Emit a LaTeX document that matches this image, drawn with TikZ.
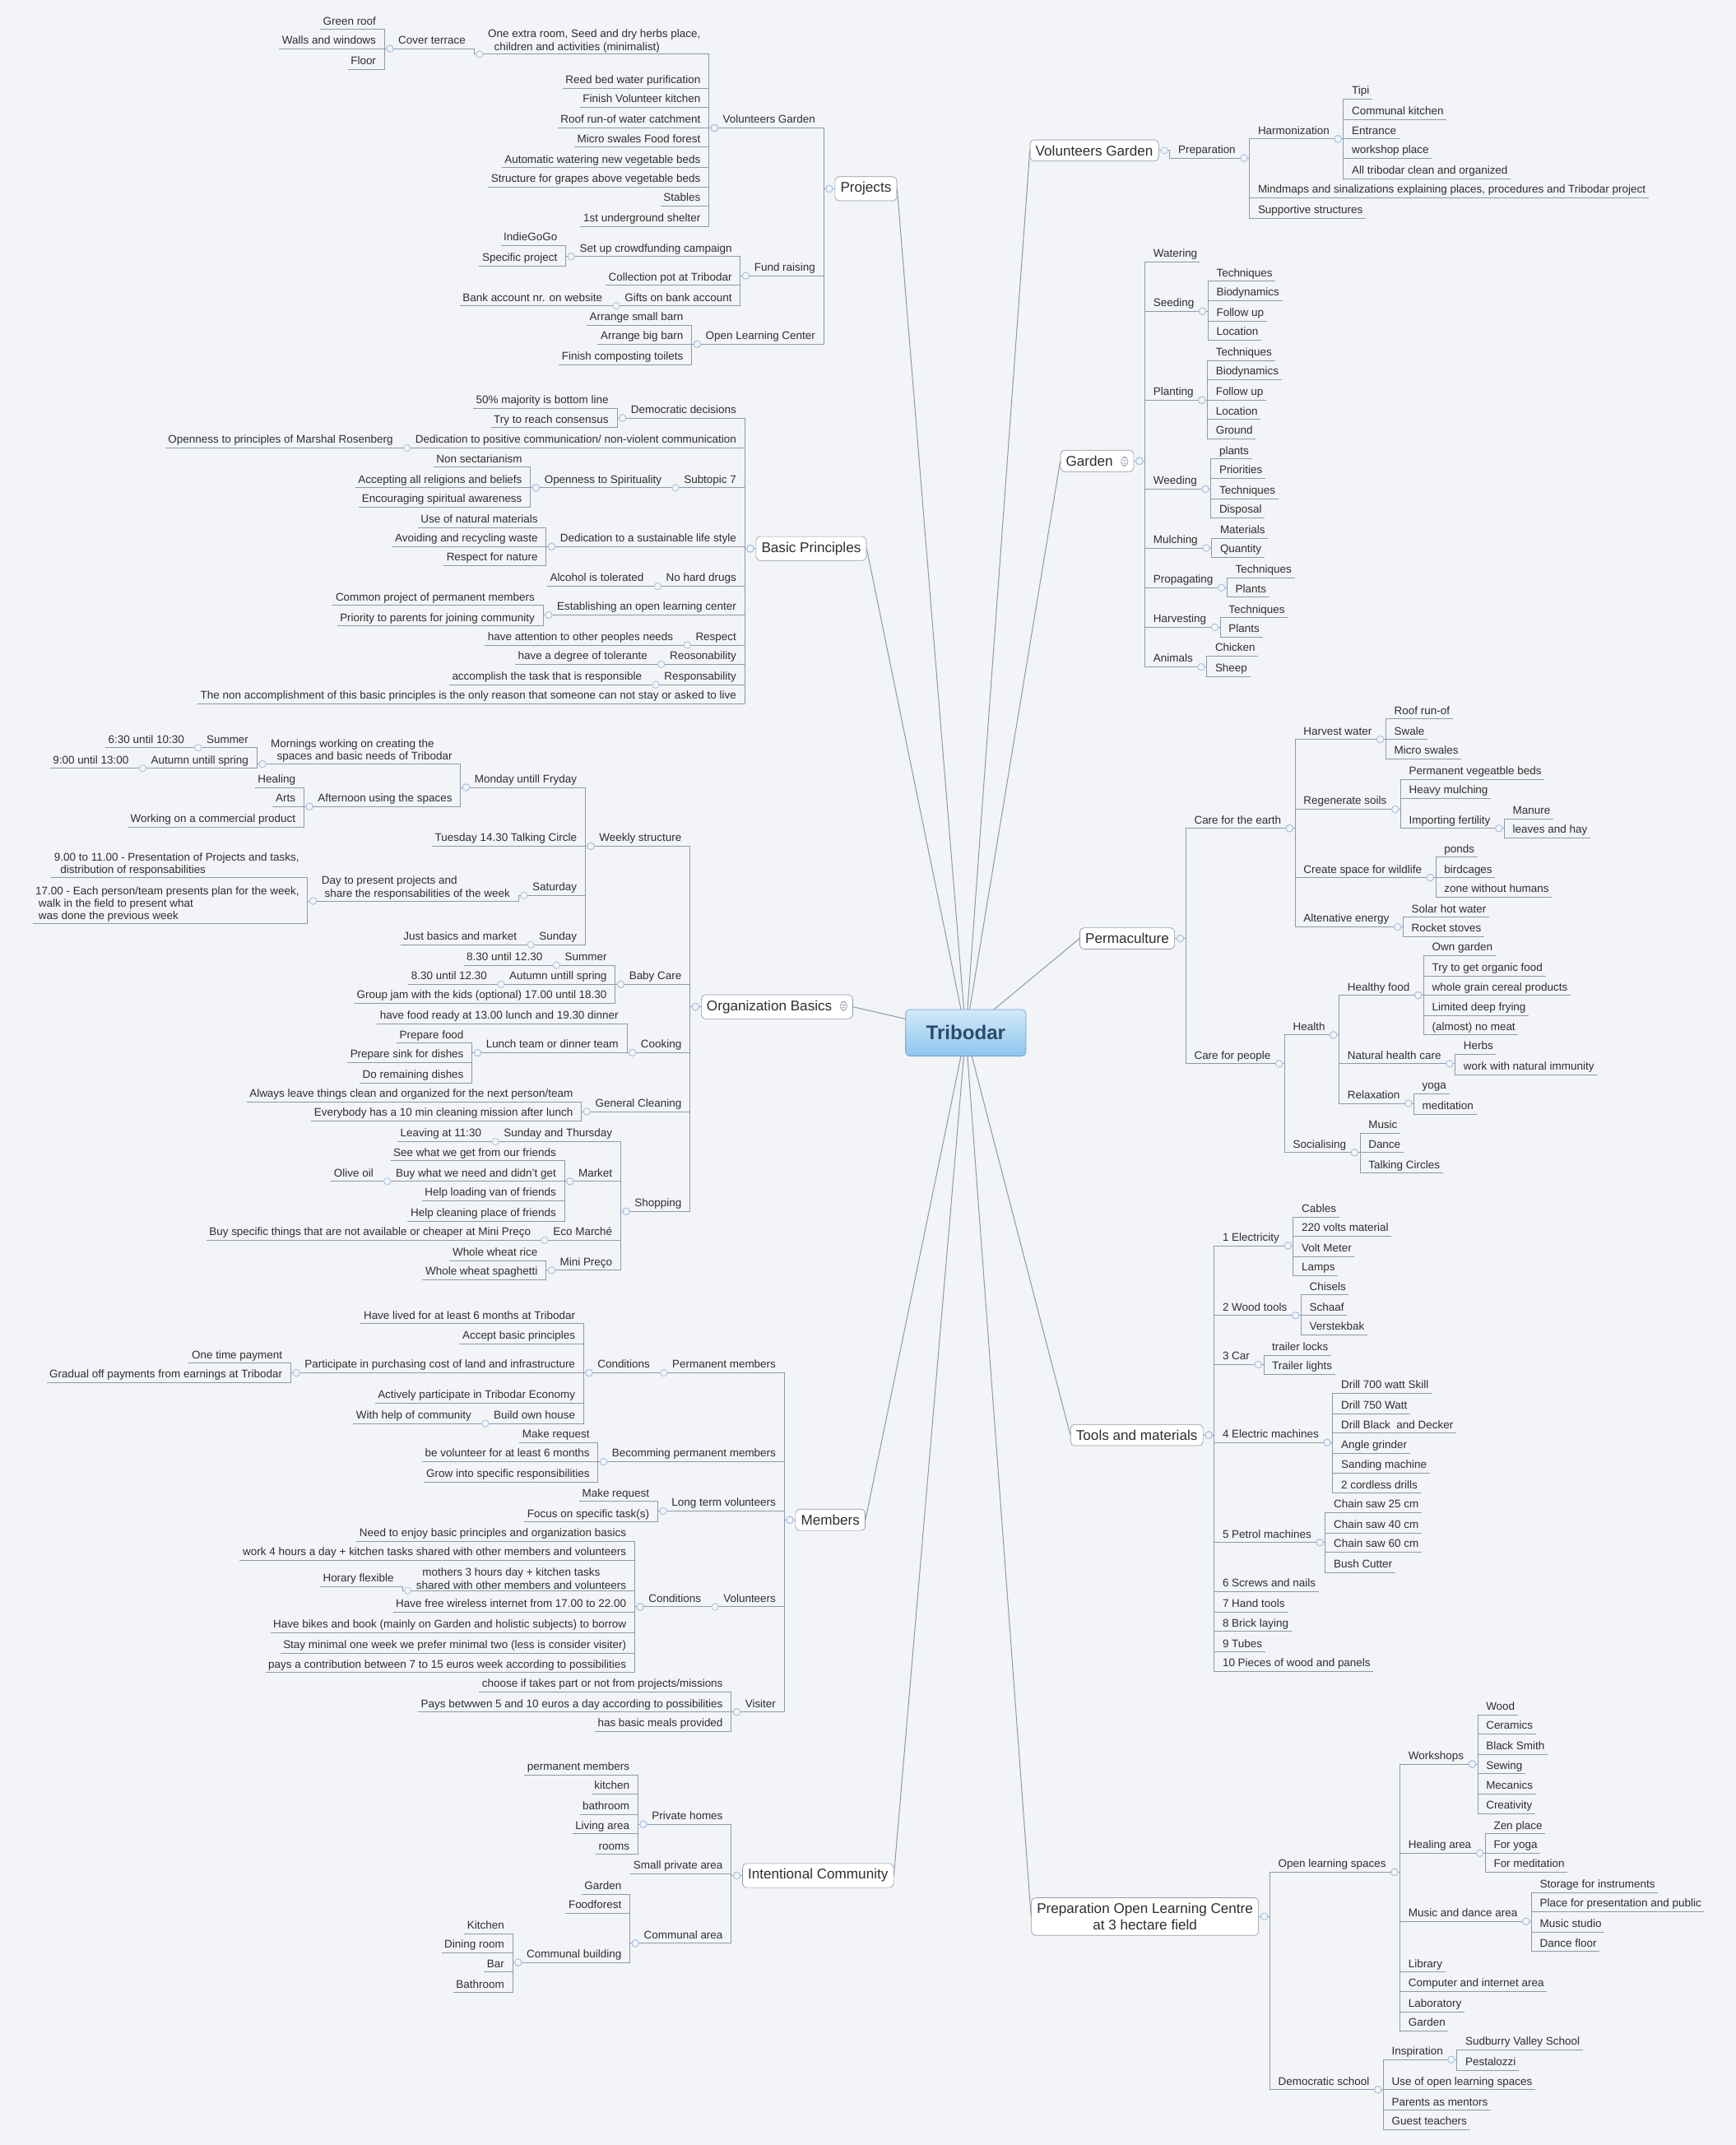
\documentclass[tikz,border=0pt]{standalone}
\usepackage{fontspec}
\setmainfont{Liberation Sans}
\usetikzlibrary{calc}
\definecolor{bg}{HTML}{F2F4F8}
\definecolor{ln}{HTML}{8E99A6}
\definecolor{tx}{HTML}{2E2E2E}
\definecolor{mkc}{HTML}{A9C4E0}
\definecolor{tb}{HTML}{6A9FCC}
\definecolor{tt}{HTML}{2D4A6B}
\definecolor{tup}{HTML}{D2E9FA}
\definecolor{tdn}{HTML}{8EC5EE}
\newcommand\noteicon{\tikz[baseline=0pt]\draw[ln,line width=0.4pt] (0,0) rectangle (5pt,6.5pt) (1pt,2pt)--(4pt,2pt) (1pt,4pt)--(4pt,4pt);}
\tikzset{
 con/.style={draw=ln,line width=0.5pt},
 leaf/.style={font=\fontsize{8.1}{9.2}\selectfont,text=tx,inner xsep=2pt,inner ysep=1pt,text height=6.5pt,text depth=2.2pt,
   append after command={(\tikzlastnode.south west) edge[con] (\tikzlastnode.south east)}},
 leafm/.style={font=\fontsize{8.1}{9.2}\selectfont,text=tx,inner xsep=2pt,inner ysep=1pt,align=left,
   append after command={(\tikzlastnode.south west) edge[con] (\tikzlastnode.south east)}},
 box/.style={draw=ln,fill=white,rounded corners=3pt,font=\fontsize{10.3}{12}\selectfont,text=tx,inner xsep=4pt,inner ysep=4pt,align=center},
 mk/.style={circle,draw=mkc,fill=bg,inner sep=0pt,minimum size=5pt,line width=0.5pt},
 trunk/.style={draw=ln,line width=0.6pt},
}
\gdef\mklist{mk0}
\newcommand\R[5][leaf]{%
 \path (#2) ++(12,0) coordinate (tmp);
 \coordinate (ty) at (0,#4);
 \node[#1,anchor=west] (#3) at (tmp |- ty) {#5};
 \draw[con] (#2) -- ++(8,0) |- (#3.south west);
 \coordinate (mk-#3) at ($(#2)+(4,0)$);
 \xdef\mklist{\mklist,mk-#3}}
\newcommand\Lf[5][leaf]{%
 \path (#2) ++(-12,0) coordinate (tmp);
 \coordinate (ty) at (0,#4);
 \node[#1,anchor=east] (#3) at (tmp |- ty) {#5};
 \draw[con] (#2) -- ++(-8,0) |- (#3.south east);
 \coordinate (mk-#3) at ($(#2)+(-4,0)$);
 \xdef\mklist{\mklist,mk-#3}}
\begin{document}
\begin{tikzpicture}[x=1pt,y=-1pt]
\fill[bg] (0,0) rectangle (1269,1568);
\useasboundingbox (0,0) rectangle (1269,1568);
\coordinate (mk0) at (-60,-60);
% branch boxes
\node[box] (pj) at (633,138) {Projects};
\node[box] (bp) at (593,401) {Basic Principles};
\node[box] (ob) at (568,736) {Organization Basics\ \ \noteicon};
\node[box] (mb) at (607,1111) {Members};
\node[box] (ic) at (598,1371) {Intentional Community};
\node[box] (vg) at (800,110) {Volunteers Garden};
\node[box] (gd) at (802,337) {Garden\ \ \noteicon};
\node[box] (pc) at (824,686) {Permaculture};
\node[box] (tm) at (831,1049) {Tools and materials};
\node[box] (ol) at (837,1401) {Preparation Open Learning Centre\\at 3 hectare field};
\coordinate (Tc) at (706,755);
\foreach \b in {pj,bp,ob,mb,ic}{\draw[trunk] (Tc) -- (\b.east);}
\foreach \b in {vg,gd,pc,tm,ol}{\draw[trunk] (Tc) -- (\b.west);}
\node[draw=tb,rounded corners=3pt,top color=tup,bottom color=tdn,
  minimum width=88pt,minimum height=34pt,font=\bfseries\fontsize{14.5}{16}\selectfont,text=tt] (T) at (Tc) {Tribodar};
% Projects
\Lf{pj.west}{p1}{88}{Volunteers Garden}
\Lf[leafm]{p1.south west}{p11}{30}{One extra room, Seed and dry herbs place,\\\ \ children and activities (minimalist)}
\Lf{p11.south west}{p111}{30}{Cover terrace}
\Lf{p111.south west}{p1111}{16}{Green roof}
\Lf{p111.south west}{p1112}{30}{Walls and windows}
\Lf{p111.south west}{p1113}{45}{Floor}
\Lf{p1.south west}{p12}{59}{Reed bed water purification}
\Lf{p1.south west}{p13}{73}{Finish Volunteer kitchen}
\Lf{p1.south west}{p14}{88}{Roof run-of water catchment}
\Lf{p1.south west}{p15}{102}{Micro swales Food forest}
\Lf{p1.south west}{p16}{117}{Automatic watering new vegetable beds}
\Lf{p1.south west}{p17}{131}{Structure for grapes above vegetable beds}
\Lf{p1.south west}{p18}{145}{Stables}
\Lf{p1.south west}{p19}{160}{1st underground shelter}
\Lf{pj.west}{p2}{196}{Fund raising}
\Lf{p2.south west}{p21}{182}{Set up crowdfunding campaign}
\Lf{p21.south west}{p211}{174}{IndieGoGo}
\Lf{p21.south west}{p212}{189}{Specific project}
\Lf{p2.south west}{p22}{203}{Collection pot at Tribodar}
\Lf{p2.south west}{p23}{218}{Gifts on bank account}
\Lf{p23.south west}{p231}{218}{Bank account nr. on website}
\Lf{pj.west}{p3}{246}{Open Learning Center}
\Lf{p3.south west}{p31}{232}{Arrange small barn}
\Lf{p3.south west}{p32}{246}{Arrange big barn}
\Lf{p3.south west}{p33}{261}{Finish composting toilets}
% Basic principles
\Lf{bp.west}{b1}{300}{Democratic decisions}
\Lf{b1.south west}{b11}{293}{50\% majority is bottom line}
\Lf{b1.south west}{b12}{307}{Try to reach consensus}
\Lf{bp.west}{b2}{322}{Dedication to positive communication/ non-violent communication}
\Lf{b2.south west}{b21}{322}{Openness to principles of Marshal Rosenberg}
\Lf{bp.west}{b3}{351}{Subtopic 7}
\Lf{b3.south west}{b31}{351}{Openness to Spirituality}
\Lf{b31.south west}{b311}{336}{Non sectarianism}
\Lf{b31.south west}{b312}{351}{Accepting all religions and beliefs}
\Lf{b31.south west}{b313}{365}{Encouraging spiritual awareness}
\Lf{bp.west}{b4}{394}{Dedication to a sustainable life style}
\Lf{b4.south west}{b41}{380}{Use of natural materials}
\Lf{b4.south west}{b42}{394}{Avoiding and recycling waste}
\Lf{b4.south west}{b43}{408}{Respect for nature}
\Lf{bp.west}{b5}{423}{No hard drugs}
\Lf{b5.south west}{b51}{423}{Alcohol is tolerated}
\Lf{bp.west}{b6}{444}{Establishing an open learning center}
\Lf{b6.south west}{b61}{437}{Common project of permanent members}
\Lf{b6.south west}{b62}{452}{Priority to parents for joining community}
\Lf{bp.west}{b7}{466}{Respect}
\Lf{b7.south west}{b71}{466}{have attention to other peoples needs}
\Lf{bp.west}{b8}{480}{Reosonability}
\Lf{b8.south west}{b81}{480}{have a degree of tolerante}
\Lf{bp.west}{b9}{495}{Responsability}
\Lf{b9.south west}{b91}{495}{accomplish the task that is responsible}
\Lf{bp.west}{b10}{509}{The non accomplishment of this basic principles is the only reason that someone can not stay or asked to live}
% Organization basics
\Lf{ob.west}{o1}{613}{Weekly structure}
\Lf{o1.south west}{o11}{570}{Monday untill Fryday}
\Lf[leafm]{o11.south west}{o111}{549}{Mornings working on creating the\\\ \ spaces and basic needs of Tribodar}
\Lf{o111.south west}{o1111}{541}{Summer}
\Lf{o1111.south west}{o11111}{541}{6:30 until 10:30}
\Lf{o111.south west}{o1112}{556}{Autumn untill spring}
\Lf{o1112.south west}{o11121}{556}{9:00 until 13:00}
\Lf{o11.south west}{o112}{584}{Afternoon using the spaces}
\Lf{o112.south west}{o1121}{570}{Healing}
\Lf{o112.south west}{o1122}{584}{Arts}
\Lf{o112.south west}{o1123}{599}{Working on a commercial product}
\Lf{o1.south west}{o12}{613}{Tuesday 14.30 Talking Circle}
\Lf{o1.south west}{o13}{649}{Saturday}
\Lf[leafm]{o13.south west}{o131}{649}{Day to present projects and\\\ share the responsabilities of the week}
\Lf[leafm]{o131.south west}{o1311}{632}{9.00 to 11.00 - Presentation of Projects and tasks,\\\ \ distribution of responsabilities}
\Lf[leafm]{o131.south west}{o1312}{661}{17.00 - Each person/team presents plan for the week,\\\ walk in the field to present what\\\ was done the previous week}
\Lf{o1.south west}{o14}{685}{Sunday}
\Lf{o14.south west}{o141}{685}{Just basics and market}
\Lf{ob.west}{o2}{714}{Baby Care}
\Lf{o2.south west}{o21}{700}{Summer}
\Lf{o21.south west}{o211}{700}{8.30 until 12.30}
\Lf{o2.south west}{o22}{714}{Autumn untill spring}
\Lf{o22.south west}{o221}{714}{8.30 until 12.30}
\Lf{o2.south west}{o23}{728}{Group jam with the kids (optional) 17.00 until 18.30}
\Lf{ob.west}{o3}{764}{Cooking}
\Lf{o3.south west}{o31}{743}{have food ready at 13.00 lunch and 19.30 dinner}
\Lf{o3.south west}{o32}{764}{Lunch team or dinner team}
\Lf{o32.south west}{o321}{757}{Prepare food}
\Lf{o32.south west}{o322}{771}{Prepare sink for dishes}
\Lf{o32.south west}{o323}{786}{Do remaining dishes}
\Lf{ob.west}{o4}{807}{General Cleaning}
\Lf{o4.south west}{o41}{800}{Always leave things clean and organized for the next person/team}
\Lf{o4.south west}{o42}{814}{Everybody has a 10 min cleaning mission after lunch}
\Lf{ob.west}{o5}{880}{Shopping}
\Lf{o5.south west}{o51}{829}{Sunday and Thursday}
\Lf{o51.south west}{o511}{829}{Leaving at 11:30}
\Lf{o5.south west}{o52}{858}{Market}
\Lf{o52.south west}{o521}{843}{See what we get from our friends}
\Lf{o52.south west}{o522}{858}{Buy what we need and didn't get}
\Lf{o522.south west}{o5221}{858}{Olive oil}
\Lf{o52.south west}{o523}{872}{Help loading van of friends}
\Lf{o52.south west}{o524}{887}{Help cleaning place of friends}
\Lf{o5.south west}{o53}{901}{Eco Marché}
\Lf{o53.south west}{o531}{901}{Buy specific things that are not available or cheaper at Mini Preço}
\Lf{o5.south west}{o54}{923}{Mini Preço}
\Lf{o54.south west}{o541}{916}{Whole wheat rice}
\Lf{o54.south west}{o542}{930}{Whole wheat spaghetti}
% Members
\Lf{mb.west}{m1}{998}{Permanent members}
\Lf{m1.south west}{m11}{998}{Conditions}
\Lf{m11.south west}{m111}{962}{Have lived for at least 6 months at Tribodar}
\Lf{m11.south west}{m112}{977}{Accept basic principles}
\Lf{m11.south west}{m113}{998}{Participate in purchasing cost of land and infrastructure}
\Lf{m113.south west}{m1131}{991}{One time payment}
\Lf{m113.south west}{m1132}{1005}{Gradual off payments from earnings at Tribodar}
\Lf{m11.south west}{m114}{1020}{Actively participate in Tribodar Economy}
\Lf{m11.south west}{m115}{1035}{Build own house}
\Lf{m115.south west}{m1151}{1035}{With help of community}
\Lf{mb.west}{m2}{1063}{Becomming permanent members}
\Lf{m2.south west}{m21}{1049}{Make request}
\Lf{m2.south west}{m22}{1063}{be volunteer for at least 6 months}
\Lf{m2.south west}{m23}{1078}{Grow into specific responsibilities}
\Lf{mb.west}{m3}{1099}{Long term volunteers}
\Lf{m3.south west}{m31}{1092}{Make request}
\Lf{m3.south west}{m32}{1107}{Focus on specific task(s)}
\Lf{mb.west}{m4}{1169}{Volunteers}
\Lf{m4.south west}{m41}{1169}{Conditions}
\Lf{m41.south west}{m411}{1121}{Need to enjoy basic principles and organization basics}
\Lf{m41.south west}{m412}{1135}{work 4 hours a day + kitchen tasks shared with other members and volunteers}
\Lf[leafm]{m41.south west}{m413}{1154}{\ \ mothers 3 hours day + kitchen tasks\\shared with other members and volunteers}
\Lf{m413.south west}{m4131}{1154}{Horary flexible}
\Lf{m41.south west}{m414}{1173}{Have free wireless internet from 17.00 to 22.00}
\Lf{m41.south west}{m415}{1188}{Have bikes and book (mainly on Garden and holistic subjects) to borrow}
\Lf{m41.south west}{m416}{1203}{Stay minimal one week we prefer minimal two (less is consider visiter)}
\Lf{m41.south west}{m417}{1217}{pays a contribution between 7 to 15 euros week according to possibilities}
\Lf{mb.west}{m5}{1246}{Visiter}
\Lf{m5.south west}{m51}{1231}{choose if takes part or not from projects/missions}
\Lf{m5.south west}{m52}{1246}{Pays betwwen 5 and 10 euros a day according to possibilities}
\Lf{m5.south west}{m53}{1260}{has basic meals provided}
% Intentional community
\Lf{ic.west}{i1}{1328}{Private homes}
\Lf{i1.south west}{i11}{1292}{permanent members}
\Lf{i1.south west}{i12}{1306}{kitchen}
\Lf{i1.south west}{i13}{1321}{bathroom}
\Lf{i1.south west}{i14}{1335}{Living area}
\Lf{i1.south west}{i15}{1350}{rooms}
\Lf{ic.west}{i2}{1364}{Small private area}
\Lf{ic.west}{i3}{1415}{Communal area}
\Lf{i3.south west}{i31}{1379}{Garden}
\Lf{i3.south west}{i32}{1393}{Foodforest}
\Lf{i3.south west}{i33}{1429}{Communal building}
\Lf{i33.south west}{i331}{1408}{Kitchen}
\Lf{i33.south west}{i332}{1422}{Dining room}
\Lf{i33.south west}{i333}{1436}{Bar}
\Lf{i33.south west}{i334}{1451}{Bathroom}
% Volunteers garden right
\R{vg.east}{v1}{110}{Preparation}
\R{v1.south east}{v11}{96}{Harmonization}
\R{v11.south east}{v111}{67}{Tipi}
\R{v11.south east}{v112}{82}{Communal kitchen}
\R{v11.south east}{v113}{96}{Entrance}
\R{v11.south east}{v114}{110}{workshop place}
\R{v11.south east}{v115}{125}{All tribodar clean and organized}
\R{v1.south east}{v12}{139}{Mindmaps and sinalizations explaining places, procedures and Tribodar project}
\R{v1.south east}{v13}{154}{Supportive structures}
% Garden
\R{gd.east}{g1}{186}{Watering}
\R{gd.east}{g2}{222}{Seeding}
\R{g2.south east}{g21}{200}{Techniques}
\R{g2.south east}{g22}{214}{Biodynamics}
\R{g2.south east}{g23}{229}{Follow up}
\R{g2.south east}{g24}{243}{Location}
\R{gd.east}{g3}{287}{Planting}
\R{g3.south east}{g31}{258}{Techniques}
\R{g3.south east}{g32}{272}{Biodynamics}
\R{g3.south east}{g33}{287}{Follow up}
\R{g3.south east}{g34}{301}{Location}
\R{g3.south east}{g35}{315}{Ground}
\R{gd.east}{g4}{352}{Weeding}
\R{g4.south east}{g41}{330}{plants}
\R{g4.south east}{g42}{344}{Priorities}
\R{g4.south east}{g43}{359}{Techniques}
\R{g4.south east}{g44}{373}{Disposal}
\R{gd.east}{g5}{395}{Mulching}
\R{g5.south east}{g51}{388}{Materials}
\R{g5.south east}{g52}{402}{Quantity}
\R{gd.east}{g6}{424}{Propagating}
\R{g6.south east}{g61}{417}{Techniques}
\R{g6.south east}{g62}{431}{Plants}
\R{gd.east}{g7}{453}{Harvesting}
\R{g7.south east}{g71}{446}{Techniques}
\R{g7.south east}{g72}{460}{Plants}
\R{gd.east}{g8}{482}{Animals}
\R{g8.south east}{g81}{474}{Chicken}
\R{g8.south east}{g82}{489}{Sheep}
% Permaculture
\R{pc.east}{c1}{600}{Care for the earth}
\R{c1.south east}{c11}{535}{Harvest water}
\R{c11.south east}{c111}{520}{Roof run-of}
\R{c11.south east}{c112}{535}{Swale}
\R{c11.south east}{c113}{549}{Micro swales}
\R{c1.south east}{c12}{586}{Regenerate soils}
\R{c12.south east}{c121}{564}{Permanent vegeatble beds}
\R{c12.south east}{c122}{578}{Heavy mulching}
\R{c12.south east}{c123}{600}{Importing fertility}
\R{c123.south east}{c1231}{593}{Manure}
\R{c123.south east}{c1232}{607}{leaves and hay}
\R{c1.south east}{c13}{636}{Create space for wildlife}
\R{c13.south east}{c131}{621}{ponds}
\R{c13.south east}{c132}{636}{birdcages}
\R{c13.south east}{c133}{650}{zone without humans}
\R{c1.south east}{c14}{672}{Altenative energy}
\R{c14.south east}{c141}{665}{Solar hot water}
\R{c14.south east}{c142}{679}{Rocket stoves}
\R{pc.east}{c2}{772}{Care for people}
\R{c2.south east}{c21}{751}{Health}
\R{c21.south east}{c211}{722}{Healthy food}
\R{c211.south east}{c2111}{693}{Own garden}
\R{c211.south east}{c2112}{708}{Try to get organic food}
\R{c211.south east}{c2113}{722}{whole grain cereal products}
\R{c211.south east}{c2114}{737}{Limited deep frying}
\R{c211.south east}{c2115}{751}{(almost) no meat}
\R{c21.south east}{c212}{772}{Natural health care}
\R{c212.south east}{c2121}{765}{Herbs}
\R{c212.south east}{c2122}{780}{work with natural immunity}
\R{c21.south east}{c213}{801}{Relaxation}
\R{c213.south east}{c2131}{794}{yoga}
\R{c213.south east}{c2132}{809}{meditation}
\R{c2.south east}{c22}{837}{Socialising}
\R{c22.south east}{c221}{823}{Music}
\R{c22.south east}{c222}{837}{Dance}
\R{c22.south east}{c223}{852}{Talking Circles}
% Tools
\R{tm.east}{t1}{905}{1 Electricity}
\R{t1.south east}{t11}{884}{Cables}
\R{t1.south east}{t12}{898}{220 volts material}
\R{t1.south east}{t13}{913}{Volt Meter}
\R{t1.south east}{t14}{927}{Lamps}
\R{tm.east}{t2}{956}{2 Wood tools}
\R{t2.south east}{t21}{941}{Chisels}
\R{t2.south east}{t22}{956}{Schaaf}
\R{t2.south east}{t23}{970}{Verstekbak}
\R{tm.east}{t3}{992}{3 Car}
\R{t3.south east}{t31}{985}{trailer locks}
\R{t3.south east}{t32}{999}{Trailer lights}
\R{tm.east}{t4}{1049}{4 Electric machines}
\R{t4.south east}{t41}{1013}{Drill 700 watt Skill}
\R{t4.south east}{t42}{1028}{Drill 750 Watt}
\R{t4.south east}{t43}{1042}{Drill Black\ \ and Decker}
\R{t4.south east}{t44}{1057}{Angle grinder}
\R{t4.south east}{t45}{1071}{Sanding machine}
\R{t4.south east}{t46}{1086}{2 cordless drills}
\R{tm.east}{t5}{1122}{5 Petrol machines}
\R{t5.south east}{t51}{1100}{Chain saw 25 cm}
\R{t5.south east}{t52}{1115}{Chain saw 40 cm}
\R{t5.south east}{t53}{1129}{Chain saw 60 cm}
\R{t5.south east}{t54}{1144}{Bush Cutter}
\R{tm.east}{t6}{1158}{6 Screws and nails}
\R{tm.east}{t7}{1173}{7 Hand tools}
\R{tm.east}{t8}{1187}{8 Brick laying}
\R{tm.east}{t9}{1202}{9 Tubes}
\R{tm.east}{t10}{1216}{10 Pieces of wood and panels}
% OLC
\R{ol.east}{l1}{1363}{Open learning spaces}
\R{l1.south east}{l11}{1284}{Workshops}
\R{l11.south east}{l111}{1248}{Wood}
\R{l11.south east}{l112}{1262}{Ceramics}
\R{l11.south east}{l113}{1277}{Black Smith}
\R{l11.south east}{l114}{1291}{Sewing}
\R{l11.south east}{l115}{1306}{Mecanics}
\R{l11.south east}{l116}{1320}{Creativity}
\R{l1.south east}{l12}{1349}{Healing area}
\R{l12.south east}{l121}{1335}{Zen place}
\R{l12.south east}{l122}{1349}{For yoga}
\R{l12.south east}{l123}{1363}{For meditation}
\R{l1.south east}{l13}{1399}{Music and dance area}
\R{l13.south east}{l131}{1378}{Storage for instruments}
\R{l13.south east}{l132}{1392}{Place for presentation and public}
\R{l13.south east}{l133}{1407}{Music studio}
\R{l13.south east}{l134}{1421}{Dance floor}
\R{l1.south east}{l14}{1436}{Library}
\R{l1.south east}{l15}{1450}{Computer and internet area}
\R{l1.south east}{l16}{1465}{Laboratory}
\R{l1.south east}{l17}{1479}{Garden}
\R{ol.east}{l2}{1522}{Democratic school}
\R{l2.south east}{l21}{1500}{Inspiration}
\R{l21.south east}{l211}{1493}{Sudburry Valley School}
\R{l21.south east}{l212}{1508}{Pestalozzi}
\R{l2.south east}{l22}{1522}{Use of open learning spaces}
\R{l2.south east}{l23}{1537}{Parents as mentors}
\R{l2.south east}{l24}{1551}{Guest teachers}
% collapse markers
\foreach \n in \mklist {\node[mk] at (\n) {};}
\end{tikzpicture}
\end{document}
